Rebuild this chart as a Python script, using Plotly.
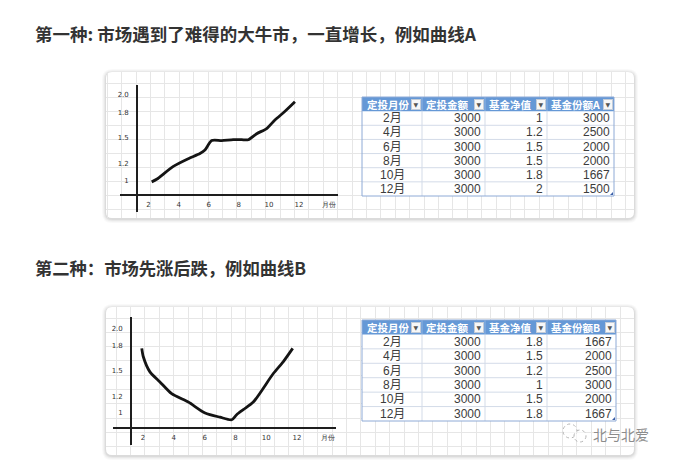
import plotly.graph_objects as go

W, H = 676, 469

# ---------------- data ----------------
table_header_A = ["定投月份", "定投金额", "基金净值", "基金份额A"]
table_header_B = ["定投月份", "定投金额", "基金净值", "基金份额B"]
months_tbl = ["2月", "4月", "6月", "8月", "10月", "12月"]
invest = [3000, 3000, 3000, 3000, 3000, 3000]
nav_A = [1, 1.2, 1.5, 1.5, 1.8, 2]
shares_A = [3000, 2500, 2000, 2000, 1667, 1500]
nav_B = [1.8, 1.5, 1.2, 1, 1.5, 1.8]
shares_B = [1667, 2000, 2500, 3000, 2000, 1667]

# hand-drawn curves (month, net value)
curveA_month = [2.21, 2.54, 3.65, 4.65, 5.42, 5.75, 6.2, 6.86, 7.63, 8.19, 8.63, 9.19, 9.85, 10.4, 11.07, 11.73]
curveA_value = [0.99, 1.02, 1.17, 1.26, 1.32, 1.36, 1.47, 1.47, 1.48, 1.48, 1.48, 1.55, 1.61, 1.71, 1.81, 1.92]
curveB_month = [1.92, 2.02, 2.45, 3.1, 3.86, 4.94, 6.03, 7.0, 7.76, 8.08, 8.51, 9.16, 10.46, 11.1, 11.72]
curveB_value = [1.77, 1.67, 1.49, 1.37, 1.23, 1.13, 1.0, 0.95, 0.92, 0.98, 1.04, 1.13, 1.47, 1.61, 1.77]

y_tickvals = [1, 1.2, 1.5, 1.8, 2.0]
y_ticktext = ["1", "1.2", "1.5", "1.8", "2.0"]
x_tickvals = [2, 4, 6, 8, 10, 12, 14]
x_ticktext = ["2", "4", "6", "8", "10", "12", "月份"]

title_A = "<b>第一种: 市场遇到了难得的大牛市，一直增长，例如曲线A</b>"
title_B = "<b>第二种：市场先涨后跌，例如曲线B</b>"
watermark = "北与北爱"

# ---------------- helpers ----------------
def fx(px):
    return px / W

def fy(py):
    return 1 - py / H

def rrect(x0, y0, x1, y1, r):
    rx, ry = r / W, r / H
    X0, X1 = fx(x0), fx(x1)
    Y0, Y1 = fy(y0), fy(y1)
    return (f"M{X0+rx},{Y0} L{X1-rx},{Y0} Q{X1},{Y0} {X1},{Y0-ry} "
            f"L{X1},{Y1+ry} Q{X1},{Y1} {X1-rx},{Y1} L{X0+rx},{Y1} "
            f"Q{X0},{Y1} {X0},{Y1+ry} L{X0},{Y0-ry} Q{X0},{Y0} {X0+rx},{Y0} Z")

FONT = "Noto Sans CJK SC, Noto Sans, sans-serif"
NUMFONT = "Liberation Sans, Noto Sans CJK SC, sans-serif"

fig = go.Figure()

# empty traces so the background grid subplots exist
fig.add_trace(go.Scatter(x=[], y=[], xaxis="x", yaxis="y", showlegend=False))
fig.add_trace(go.Scatter(x=[], y=[], xaxis="x2", yaxis="y2", showlegend=False))

line_style = dict(color="#141414", width=2.8, shape="spline", smoothing=0.7)
fig.add_trace(go.Scatter(x=curveA_month, y=curveA_value, mode="lines", line=line_style,
                         xaxis="x3", yaxis="y3", showlegend=False, hoverinfo="skip"))
fig.add_trace(go.Scatter(x=curveB_month, y=curveB_value, mode="lines", line=line_style,
                         xaxis="x4", yaxis="y4", showlegend=False, hoverinfo="skip"))

shapes = []
annotations = []

# ---------------- cards ----------------
for (x0, y0, x1, y1) in [(106, 72, 634, 218), (106, 307, 634, 455)]:
    for d, a in [(4, 0.022), (3, 0.028), (2, 0.04), (1, 0.055)]:
        shapes.append(dict(type="path", path=rrect(x0 - d, y0 - d + 1, x1 + d, y1 + d + 1, 6 + d),
                           xref="paper", yref="paper", fillcolor=f"rgba(0,0,0,{a})",
                           line=dict(width=0), layer="below"))
    shapes.append(dict(type="path", path=rrect(x0, y0, x1, y1, 6), xref="paper", yref="paper",
                       fillcolor="white", line=dict(width=0), layer="below"))

# ---------------- tables built from the data lists ----------------
def add_table(header, cols, left, col_rights, top, bottom):
    nrows = len(cols[0]) + 1
    rh = (bottom - top) / nrows
    lefts = [left] + col_rights[:-1]
    right = col_rights[-1]
    shapes.append(dict(type="rect", xref="paper", yref="paper", x0=fx(left), x1=fx(right),
                       y0=fy(bottom), y1=fy(top), fillcolor="white", line=dict(width=0), layer="above"))
    shapes.append(dict(type="rect", xref="paper", yref="paper", x0=fx(left), x1=fx(right),
                       y0=fy(top + rh), y1=fy(top), fillcolor="#6598d6", line=dict(width=0), layer="above"))
    for i in range(2, nrows):
        yy = top + rh * i
        shapes.append(dict(type="line", xref="paper", yref="paper", x0=fx(left), x1=fx(right),
                           y0=fy(yy), y1=fy(yy), line=dict(color="#d3dbe8", width=1), layer="above"))
    for xr in col_rights[:-1]:
        shapes.append(dict(type="line", xref="paper", yref="paper", x0=fx(xr), x1=fx(xr),
                           y0=fy(bottom), y1=fy(top + rh), line=dict(color="#d3dbe8", width=1), layer="above"))
        shapes.append(dict(type="line", xref="paper", yref="paper", x0=fx(xr), x1=fx(xr),
                           y0=fy(top + rh), y1=fy(top), line=dict(color="#8fb3e2", width=1), layer="above"))
    shapes.append(dict(type="rect", xref="paper", yref="paper", x0=fx(left), x1=fx(right),
                       y0=fy(bottom), y1=fy(top), fillcolor="rgba(0,0,0,0)",
                       line=dict(color="#8eaad6", width=1), layer="above"))
    shapes.append(dict(type="path", xref="paper", yref="paper",
                       path=f"M{fx(right-1)},{fy(bottom-4)} L{fx(right-1)},{fy(bottom-1)} L{fx(right-4)},{fy(bottom-1)} Z",
                       fillcolor="#3b5fa8", line=dict(width=0), layer="above"))
    for j, h in enumerate(header):
        pad = 3 if j == 0 else 2
        annotations.append(dict(text=f"<b>{h}</b>", x=fx(lefts[j] + pad), y=fy(top + rh / 2),
                                xref="paper", yref="paper", xanchor="left", yanchor="middle",
                                showarrow=False, font=dict(size=10.5, color="white", family=FONT)))
        annotations.append(dict(text="▼", x=fx(col_rights[j] - 6), y=fy(top + rh / 2 + 0.5),
                                xref="paper", yref="paper", xanchor="center", yanchor="middle",
                                showarrow=False, font=dict(size=6, color="#555", family="DejaVu Sans"),
                                bgcolor="#f7f7f7", bordercolor="#c3ccd8", borderwidth=1,
                                width=8, height=9, borderpad=0))
    for j, col in enumerate(cols):
        for i, v in enumerate(col):
            yc = top + rh * (i + 1) + rh / 2
            if j == 0:
                annotations.append(dict(text=str(v), x=fx((lefts[j] + col_rights[j]) / 2), y=fy(yc),
                                        xref="paper", yref="paper", xanchor="center", yanchor="middle",
                                        showarrow=False, font=dict(size=12, color="#3c3c3c", family=NUMFONT)))
            else:
                annotations.append(dict(text=str(v), x=fx(col_rights[j] - 2.5), y=fy(yc),
                                        xref="paper", yref="paper", xanchor="right", yanchor="middle",
                                        showarrow=False, font=dict(size=12, color="#3c3c3c", family=NUMFONT)))

add_table(table_header_A, [months_tbl, invest, nav_A, shares_A], 362, [422, 485, 547, 614], 97, 196)
add_table(table_header_B, [months_tbl, invest, nav_B, shares_B], 362, [422, 485, 547, 616], 320, 421)

# ---------------- axes ----------------
grid = dict(showgrid=True, gridcolor="#e6e6e6", gridwidth=1, showticklabels=False,
            zeroline=False, showline=False, ticks="", fixedrange=True)

def chart_axes(xd, yd, xr, yr, xpos, ypos):
    common = dict(showline=True, linecolor="#1e1e1e", linewidth=1.6, showgrid=False,
                  zeroline=False, ticks="", fixedrange=True,
                  tickfont=dict(size=7, color="#333", family="DejaVu Sans"))
    xa = dict(common, domain=[fx(xd[0]), fx(xd[1])], range=xr, anchor="free",
              position=fy(xpos), tickmode="array", tickvals=x_tickvals, ticktext=x_ticktext,
              ticklabelstandoff=3)
    ya = dict(common, domain=[fy(yd[1]), fy(yd[0])], range=yr, anchor="free",
              position=fx(ypos), tickmode="array", tickvals=y_tickvals, ticktext=y_ticktext,
              ticklabelstandoff=6)
    return xa, ya

xa3, ya3 = chart_axes((120, 338), (85, 212), [0.106, 14.59], [0.640, 2.116], 195, 137)
xa4, ya4 = chart_axes((113, 336), (317, 445), [0.052, 14.53], [0.619, 2.143], 428, 131)

for (cx, cy, r) in [(570, 431, 7), (580, 436, 6)]:
    shapes.append(dict(type="circle", xref="paper", yref="paper",
                       x0=fx(cx - r), x1=fx(cx + r), y0=fy(cy + r), y1=fy(cy - r),
                       line=dict(color="#b5b5b5", width=1, dash="dot"), fillcolor="rgba(255,255,255,0.6)",
                       layer="above"))

annotations += [
    dict(text=title_A, x=fx(33), y=fy(33), xref="paper", yref="paper", xanchor="left",
         yanchor="middle", showarrow=False, font=dict(size=17.5, color="#333", family=FONT)),
    dict(text=title_B, x=fx(33), y=fy(267), xref="paper", yref="paper", xanchor="left",
         yanchor="middle", showarrow=False, font=dict(size=17.3, color="#333", family=FONT)),
    dict(text=watermark, x=fx(591), y=fy(434), xref="paper", yref="paper", xanchor="left",
         yanchor="middle", showarrow=False, font=dict(size=14, color="#8c8c8c", family=FONT)),
]

fig.update_layout(
    width=W, height=H, margin=dict(l=0, r=0, t=0, b=0),
    paper_bgcolor="white", plot_bgcolor="rgba(0,0,0,0)",
    showlegend=False,
    xaxis=dict(grid, domain=[fx(106), fx(634)], range=[106, 634], anchor="y", tick0=121.7, dtick=14.4),
    yaxis=dict(grid, domain=[fy(218), fy(72)], range=[218, 72], anchor="x", tick0=83.3, dtick=14),
    xaxis2=dict(grid, domain=[fx(106), fx(634)], range=[106, 634], anchor="y2", tick0=116, dtick=14.4),
    yaxis2=dict(grid, domain=[fy(455), fy(307)], range=[455, 307], anchor="x2", tick0=318, dtick=14.3),
    xaxis3=xa3, yaxis3=ya3, xaxis4=xa4, yaxis4=ya4,
    shapes=shapes, annotations=annotations,
)

fig.write_html("out.html")
